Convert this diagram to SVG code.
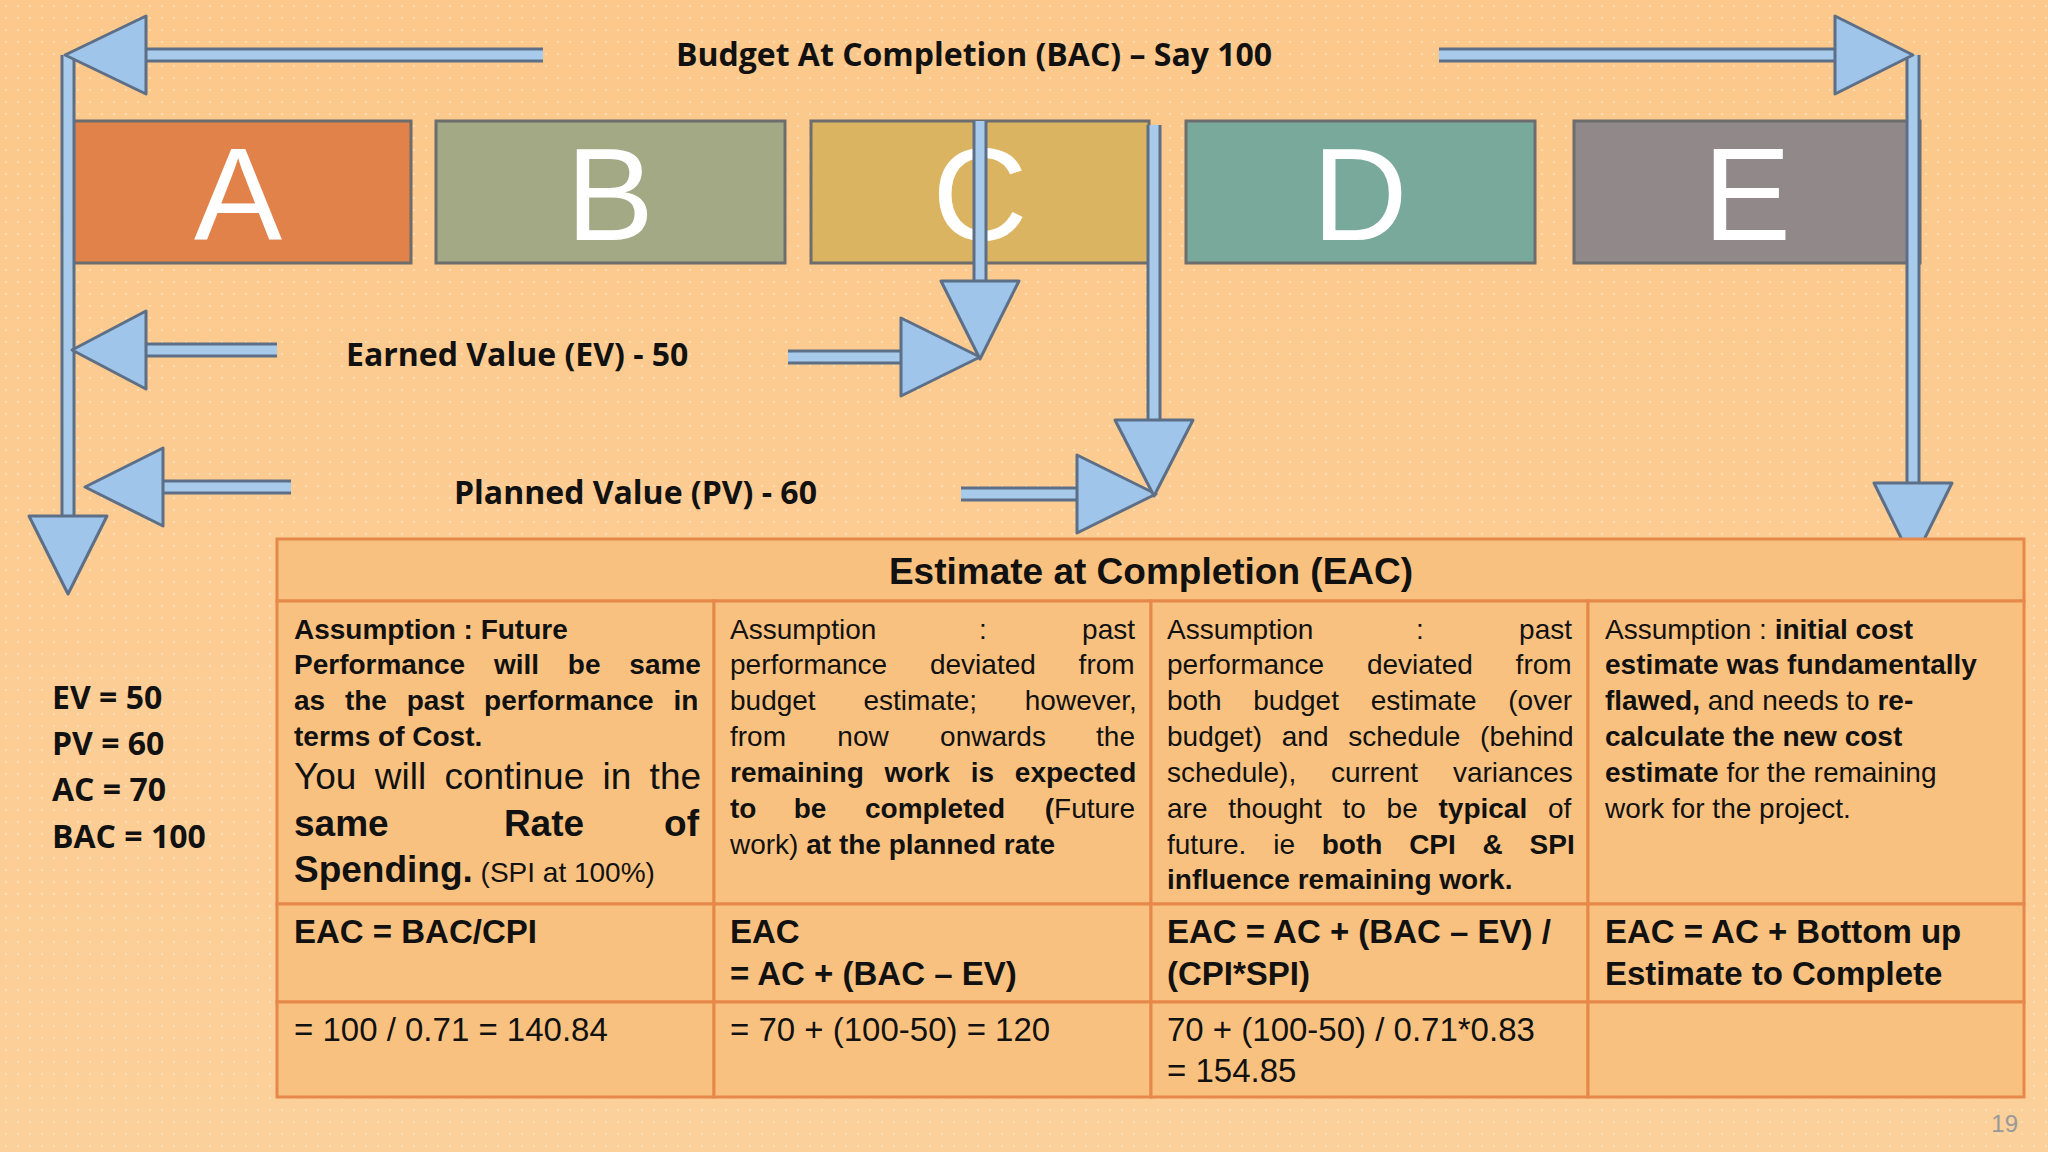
<svg xmlns="http://www.w3.org/2000/svg" width="2048" height="1152" viewBox="0 0 2048 1152">
<defs>
<pattern id="dots" width="12" height="12" patternUnits="userSpaceOnUse"><circle cx="6" cy="6" r="1" fill="#fde3bd"/></pattern>
<linearGradient id="bg" x1="0" y1="0" x2="0" y2="1"><stop offset="0" stop-color="#fcc88b"/><stop offset="1" stop-color="#fcd09a"/></linearGradient>
</defs>
<style>
.pipeo{stroke:#5d6f86;stroke-width:15;fill:none}
.pipei{stroke:#a8cbeb;stroke-width:9;fill:none}
.head{fill:#9fc5ea;stroke:#5d6f86;stroke-width:3;stroke-linejoin:round}
.box{stroke:#6d6d6d;stroke-width:3}
.let{font-family:"Liberation Sans",Arial,sans-serif;font-size:132px;fill:#fff;text-anchor:middle}
.lbl{font-family:"Open Sans","Liberation Sans",sans-serif;font-weight:700;font-size:32px;fill:#111}
.t{font-family:"Liberation Sans",Arial,sans-serif;font-size:28px;fill:#111}
.b{font-weight:700}
.big{font-size:37px}
.mid{font-size:33px}
.hdr{font-size:37px}
.e{text-anchor:end}
.m{text-anchor:middle}
.cell{fill:#f9c17f;stroke:#e6884a;stroke-width:3}
</style>
<rect width="2048" height="1152" fill="url(#bg)"/>
<rect width="2048" height="1152" fill="url(#dots)"/>

<g id="boxes">
<g id="A"><rect class="box" x="65" y="121" width="346" height="142" fill="#e0824a"/><text class="let" x="238" y="240">A</text></g>
<g id="B"><rect class="box" x="436" y="121" width="349" height="142" fill="#a3a984"/><text class="let" x="610" y="240">B</text></g>
<g id="C"><rect class="box" x="811" y="121" width="338" height="142" fill="#dbb462"/><text class="let" x="980" y="240">C</text></g>
<g id="D"><rect class="box" x="1186" y="121" width="349" height="142" fill="#79a99a"/><text class="let" x="1360" y="240">D</text></g>
<g id="E"><rect class="box" x="1574" y="121" width="346" height="142" fill="#918889"/><text class="let" x="1747" y="240">E</text></g>
</g>

<g id="labels">
<text class="lbl" x="974" y="66" text-anchor="middle">Budget At Completion (BAC) – Say 100</text>
<text class="lbl" x="346" y="366">Earned Value (EV) - 50</text>
<text class="lbl" x="454" y="504">Planned Value (PV) - 60</text>
<text class="lbl" x="52" y="709">EV = 50</text>
<text class="lbl" x="52" y="755">PV = 60</text>
<text class="lbl" x="52" y="801">AC = 70</text>
<text class="lbl" x="52" y="848">BAC = 100</text>
<text x="2018" y="1132" font-family="Liberation Sans,sans-serif" font-size="24" fill="#999" text-anchor="end">19</text>
</g>

<g id="connectors">
<path class="pipeo" d="M543 55H140M68 55V520"/><path class="pipei" d="M543 55H140M68 55V520"/>
<polygon class="head" points="65,55 146,16 146,94"/>
<polygon class="head" points="68,594 29,516 107,516"/>
<path class="pipeo" d="M1439 55H1840M1913 55V490"/><path class="pipei" d="M1439 55H1840M1913 55V490"/>
<polygon class="head" points="1913,55 1835,16 1835,94"/>
<polygon class="head" points="1913,562 1874,483 1952,483"/>
<path class="pipeo" d="M277 350H140"/><path class="pipei" d="M277 350H140"/>
<polygon class="head" points="72,350 146,311 146,389"/>
<path class="pipeo" d="M788 357H905M980 121V285"/><path class="pipei" d="M788 357H905M980 121V285"/>
<polygon class="head" points="980,357 901,318 901,396"/>
<polygon class="head" points="980,359 941,281 1019,281"/>
<path class="pipeo" d="M291 487H160"/><path class="pipei" d="M291 487H160"/>
<polygon class="head" points="85,487 163,448 163,526"/>
<path class="pipeo" d="M961 494H1080M1154 125V425"/><path class="pipei" d="M961 494H1080M1154 125V425"/>
<polygon class="head" points="1156,494 1077,455 1077,533"/>
<polygon class="head" points="1154,496 1115,420 1193,420"/>
</g>

<g id="table">
<rect class="cell" x="277" y="539" width="1747" height="62"/>
<rect class="cell" x="277" y="601" width="437" height="303"/><rect class="cell" x="714" y="601" width="437" height="303"/><rect class="cell" x="1151" y="601" width="437" height="303"/><rect class="cell" x="1588" y="601" width="436" height="303"/>
<rect class="cell" x="277" y="904" width="437" height="98"/><rect class="cell" x="714" y="904" width="437" height="98"/><rect class="cell" x="1151" y="904" width="437" height="98"/><rect class="cell" x="1588" y="904" width="436" height="98"/>
<rect class="cell" x="277" y="1002" width="437" height="95"/><rect class="cell" x="714" y="1002" width="437" height="95"/><rect class="cell" x="1151" y="1002" width="437" height="95"/><rect class="cell" x="1588" y="1002" width="436" height="95"/>
<text class="t b hdr m" x="1151" y="584">Estimate at Completion (EAC)</text>

<text class="t b" x="294" y="639">Assumption : Future</text>
<text class="t b" x="294" y="674" word-spacing="21">Performance will be same</text>
<text class="t b" x="294" y="710" word-spacing="12">as the past performance in</text>
<text class="t b" x="294" y="746">terms of Cost.</text>
<text class="t big" x="294" y="789" word-spacing="8">You will continue in the</text>
<text class="t b big" x="294" y="836">same</text><text class="t b big m" x="544" y="836">Rate</text><text class="t b big e" x="699" y="836">of</text>
<text class="t" x="294" y="882"><tspan class="b big">Spending.</tspan> (SPI at  100%)</text>

<text class="t" x="730" y="639">Assumption</text><text class="t m" x="983" y="639">:</text><text class="t e" x="1135" y="639">past</text>
<text class="t" x="730" y="674" word-spacing="35">performance deviated from</text>
<text class="t" x="730" y="710" word-spacing="40">budget estimate; however,</text>
<text class="t" x="730" y="746">from</text><text class="t m" x="863" y="746">now</text><text class="t m" x="993" y="746">onwards</text><text class="t e" x="1135" y="746">the</text>
<text class="t b" x="730" y="782" word-spacing="13">remaining work is expected</text>
<text class="t b" x="730" y="818">to</text><text class="t b m" x="810" y="818">be</text><text class="t b m" x="935" y="818">completed</text><text class="t e" x="1135" y="818"><tspan class="b">(</tspan>Future</text>
<text class="t" x="730" y="854">work) <tspan class="b">at the  planned rate</tspan></text>

<text class="t" x="1167" y="639">Assumption</text><text class="t m" x="1420" y="639">:</text><text class="t e" x="1572" y="639">past</text>
<text class="t" x="1167" y="674" word-spacing="35">performance deviated from</text>
<text class="t" x="1167" y="710" word-spacing="24">both budget estimate (over</text>
<text class="t" x="1167" y="746" word-spacing="12">budget) and schedule (behind</text>
<text class="t" x="1167" y="782" word-spacing="27">schedule), current variances</text>
<text class="t" x="1167" y="818" word-spacing="13">are thought to be <tspan class="b">typical</tspan> of</text>
<text class="t" x="1167" y="854" word-spacing="19">future.  ie <tspan class="b">both CPI &amp; SPI</tspan></text>
<text class="t b" x="1167" y="889">influence remaining work.</text>

<text class="t" x="1605" y="639">Assumption : <tspan class="b">initial cost</tspan></text>
<text class="t b" x="1605" y="674">estimate was fundamentally</text>
<text class="t" x="1605" y="710"><tspan class="b">flawed,</tspan> and needs to <tspan class="b">re-</tspan></text>
<text class="t b" x="1605" y="746">calculate the new cost</text>
<text class="t" x="1605" y="782"><tspan class="b">estimate</tspan> for the remaining</text>
<text class="t" x="1605" y="818">work for the project.</text>

<text class="t b mid" x="294" y="943">EAC = BAC/CPI</text>
<text class="t b mid" x="730" y="943">EAC</text>
<text class="t b mid" x="730" y="985">= AC + (BAC – EV)</text>
<text class="t b mid" x="1167" y="943">EAC = AC + (BAC – EV) /</text>
<text class="t b mid" x="1167" y="985">(CPI*SPI)</text>
<text class="t b mid" x="1605" y="943">EAC = AC + Bottom up</text>
<text class="t b mid" x="1605" y="985">Estimate to Complete</text>

<text class="t mid" x="294" y="1041">= 100 / 0.71 = 140.84</text>
<text class="t mid" x="730" y="1041">= 70 + (100-50) = 120</text>
<text class="t mid" x="1167" y="1041">70 + (100-50) / 0.71*0.83</text>
<text class="t mid" x="1167" y="1082">= 154.85</text>
</g>
</svg>
